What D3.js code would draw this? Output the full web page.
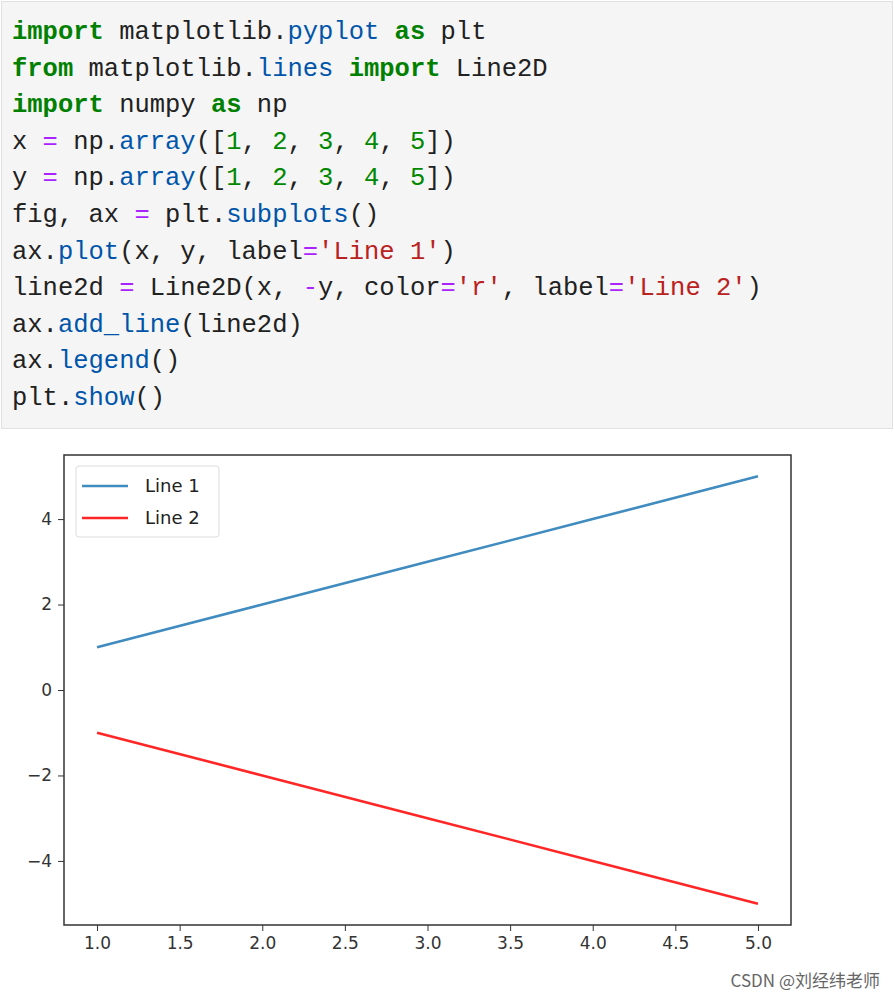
<!DOCTYPE html>
<html><head><meta charset="utf-8">
<script src="https://cdn.jsdelivr.net/npm/d3@7"></script>
<style>body{margin:0;background:#fff}</style>
</head><body><div id="chart"></div>
<script>
// data
var xValues = [1, 2, 3, 4, 5];
var line1 = [1, 2, 3, 4, 5];
var line2 = [-1, -2, -3, -4, -5];
var xTicks = [1.0, 1.5, 2.0, 2.5, 3.0, 3.5, 4.0, 4.5, 5.0];
var yTicks = [-4, -2, 0, 2, 4];
var seriesNames = ["Line 1", "Line 2"];
var seriesColors = ["#1f77b4", "red"];

// code text tokens: [text, class]
var codeLines = [
  [["import","kw"],[" matplotlib.",""],["pyplot","mod"],[" ",""],["as","kw"],[" plt",""]],
  [["from","kw"],[" matplotlib.",""],["lines","mod"],[" ",""],["import","kw"],[" Line2D",""]],
  [["import","kw"],[" numpy ",""],["as","kw"],[" np",""]],
  [["x ",""],["=","op"],[" np.",""],["array","fn"],["([",""],["1","num"],[", ",""],["2","num"],[", ",""],["3","num"],[", ",""],["4","num"],[", ",""],["5","num"],["])",""]],
  [["y ",""],["=","op"],[" np.",""],["array","fn"],["([",""],["1","num"],[", ",""],["2","num"],[", ",""],["3","num"],[", ",""],["4","num"],[", ",""],["5","num"],["])",""]],
  [["fig, ax ",""],["=","op"],[" plt.",""],["subplots","fn"],["()",""]],
  [["ax.",""],["plot","fn"],["(x, y, label",""],["=","op"],["'Line 1'","str"],[")",""]],
  [["line2d ",""],["=","op"],[" Line2D(x, ",""],["-","op"],["y, color",""],["=","op"],["'r'","str"],[", label",""],["=","op"],["'Line 2'","str"],[")",""]],
  [["ax.",""],["add_line","fn"],["(line2d)",""]],
  [["ax.",""],["legend","fn"],["()",""]],
  [["plt.",""],["show","fn"],["()",""]]
];
var colors = {kw:"#008000", mod:"#0055aa", fn:"#0055aa", op:"#aa22ff", num:"#008800", str:"#ba2121", "":"#212121"};

var svg = d3.select("#chart").append("svg").attr("width", 894).attr("height", 999);

// code cell
svg.append("rect").attr("x", 1.5).attr("y", 1.5).attr("width", 891).attr("height", 427)
  .attr("fill", "#f5f5f5").attr("stroke", "#e0e0e0");
codeLines.forEach((toks, i) => {
  var t = svg.append("text").attr("x", 12).attr("y", 39 + i * 36.6)
    .attr("font-family", "'Liberation Mono', 'DejaVu Sans Mono', monospace")
    .attr("font-size", "25.5px").attr("xml:space", "preserve").style("white-space", "pre");
  toks.forEach(tk => {
    t.append("tspan").attr("fill", colors[tk[1]])
      .attr("font-weight", tk[1] === "kw" ? "bold" : "normal").text(tk[0]);
  });
});

// chart
var margin = {left: 64, top: 455, right: 791, bottom: 925};
var xScale = d3.scaleLinear().domain([0.8, 5.2]).range([margin.left, margin.right]);
var yScale = d3.scaleLinear().domain([-5.5, 5.5]).range([margin.bottom, margin.top]);
var font = "'DejaVu Sans', sans-serif";

var xAxis = svg.append("g").attr("transform", `translate(0,${margin.bottom})`)
  .call(d3.axisBottom(xScale).tickValues(xTicks).tickFormat(d3.format(".1f")).tickSize(6).tickPadding(6));
var yAxis = svg.append("g").attr("transform", `translate(${margin.left},0)`)
  .call(d3.axisLeft(yScale).tickValues(yTicks).tickFormat(d => d < 0 ? "\u2212" + (-d) : d).tickSize(6).tickPadding(6));
[xAxis, yAxis].forEach(g => {
  g.select(".domain").remove();
  g.selectAll("line").attr("stroke", "#333");
  g.selectAll("text").attr("font-family", font).attr("font-size", "17px").attr("fill", "#333");
});

var line = d3.line().x((d, i) => xScale(xValues[i])).y(d => yScale(d));
[line1, line2].forEach((s, i) => {
  svg.append("path").datum(s).attr("d", line).attr("fill", "none")
    .attr("stroke", seriesColors[i]).attr("stroke-width", 2.6).attr("opacity", 0.85);
});

svg.append("rect").attr("x", margin.left).attr("y", margin.top)
  .attr("width", margin.right - margin.left).attr("height", margin.bottom - margin.top)
  .attr("fill", "none").attr("stroke", "#333").attr("stroke-width", 1.5);

// legend
svg.append("rect").attr("x", 76).attr("y", 466).attr("width", 143).attr("height", 71).attr("rx", 3)
  .attr("fill", "#fff").attr("fill-opacity", 0.8).attr("stroke", "#ddd");
seriesNames.forEach((n, i) => {
  var y = 486 + i * 32;
  svg.append("line").attr("x1", 82).attr("x2", 128).attr("y1", y).attr("y2", y)
    .attr("stroke", seriesColors[i]).attr("stroke-width", 2.6).attr("opacity", 0.85);
  svg.append("text").attr("x", 145).attr("y", y + 6).attr("font-family", font)
    .attr("font-size", "18px").attr("fill", "#222").text(n);
});

svg.append("text").attr("x", 880).attr("y", 987).attr("text-anchor", "end")
  .attr("font-family", "'Noto Sans CJK SC', sans-serif").attr("font-size", "17px")
  .attr("fill", "#666").text("CSDN @刘经纬老师");
</script></body></html>
